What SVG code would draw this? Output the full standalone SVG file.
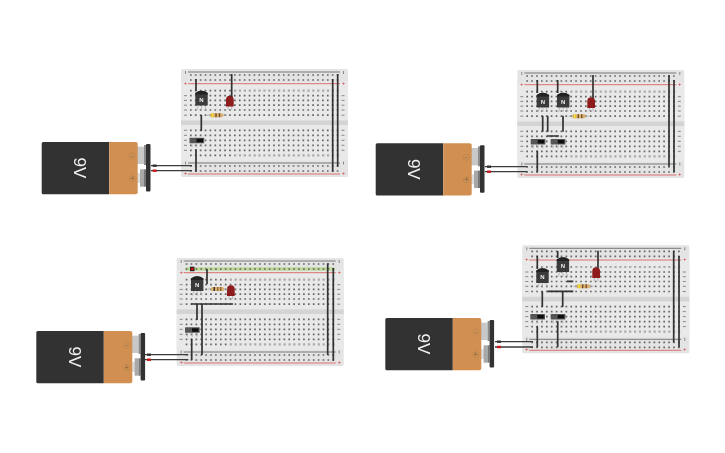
<svg xmlns="http://www.w3.org/2000/svg" width="725" height="453" viewBox="0 0 725 453">
<style>
.h{fill:none;stroke:#666;stroke-width:1.700;stroke-dasharray:1.700 3.190}
.hl{fill:none;stroke:#aaa;stroke-width:2.200;stroke-dasharray:2.200 2.690}
.tick{fill:none;stroke:#888;stroke-width:1}
.w{fill:none;stroke:#333;stroke-width:1.700}
.bw{fill:none;stroke:#3a3a3a;stroke-width:1.300}
.leg{fill:none;stroke:#aaa;stroke-width:.8}
.v{font:17px "Liberation Sans",Arial,sans-serif;fill:#f2f2f2;text-anchor:middle}
.n{font:bold 6px "Liberation Sans",Arial,sans-serif;fill:#eee;text-anchor:middle}
.pm{font:7px "Liberation Sans",Arial,sans-serif;fill:#7a5a35;text-anchor:middle}
.rp{font:6px "Liberation Sans",Arial,sans-serif;fill:#d04040;text-anchor:middle}
</style>
<defs>
<filter id="soft" x="0" y="0" width="725" height="453" filterUnits="userSpaceOnUse"><feGaussianBlur stdDeviation=".35"/></filter>
<g id="bb">
<rect width="167" height="108" rx="1.500" fill="#e4e4e4"/>
<rect y="13" width="167" height="38.500" fill="#e9e9e9"/>
<rect y="56" width="167" height="35.500" fill="#e9e9e9"/>
<rect y="51.500" width="167" height="4.500" fill="#d4d4d4"/>
<path d="M7 3H159M7 94H159" fill="none" stroke="#777" stroke-width="1"/>
<path d="M7 14.700H159M7 105H159" fill="none" stroke="#d87070" stroke-width="1"/>
<path class="h" d="M9 6H158M9 11H158M9 97H158M9 102H158M9 26.700H158M9 31.400H158M9 36.200H158M9 41H158M9 46.200H158M9 61.300H158M9 66.300H158M9 71.300H158M9 76.300H158M9 81.300H158"/>
<path class="h" d="M9 21.700H53M9 86.300H53"/>
<path class="hl" d="M53 21.700H158M53 86.300H158"/>
<path class="tick" d="M3 26.700h3M3 31.400h3M3 36.200h3M3 41h3M3 46.200h3M3 61.300h3M3 66.300h3M3 71.300h3M3 76.300h3M3 81.300h3M160.500 26.700h3M160.500 31.400h3M160.500 36.200h3M160.500 41h3M160.500 46.200h3M160.500 61.300h3M160.500 66.300h3M160.500 71.300h3M160.500 76.300h3M160.500 81.300h3M4.500 2v3M162.500 2v3M4.500 92.500v3M162.500 92.500v3"/>
<text class="rp" x="4.500" y="15.500">+</text><text class="rp" x="162.500" y="15.500">+</text>
<text class="rp" x="4.500" y="106">+</text><text class="rp" x="162.500" y="106">+</text>
</g>
<g id="bat">
<rect x="95" y="4.700" width="7.300" height="17.300" fill="#c8c8c8"/>
<rect x="102.300" y="3" width="2" height="20" fill="#8c8c8c"/>
<rect x="95" y="31" width="4" height="10" fill="#ddd"/>
<rect x="98.300" y="27.300" width="4" height="17.400" fill="#a8a8a8"/>
<rect x="102.300" y="27.300" width="2" height="17.400" fill="#777"/>
<path d="M0 1.500A1.500 1.500 0 0 1 1.500 0H67.500V52.300H1.500A1.500 1.500 0 0 1 0 50.800Z" fill="#333"/>
<path d="M67.500 0H94A2 2 0 0 1 96 2V50.300A2 2 0 0 1 94 52.300H67.500Z" fill="#d19051"/>
<circle cx="90.500" cy="14" r="3" fill="#cf9154" stroke="#b98348" stroke-width=".7"/>
<circle cx="90.500" cy="36.700" r="3" fill="#cf9154" stroke="#b98348" stroke-width=".7"/>
<rect x="104.300" y="2" width="4.500" height="47.500" rx="1" fill="#333"/>
</g>
<g id="tr">
<path class="leg" d="M3 15.500L1.500 20M6.200 15.500V20M9.400 15.500L11 20"/>
<path d="M0 3Q6.200-1.500 12.400 3V15.500H0Z" fill="#3a3a3a"/>
<path d="M0 3Q6.200-1.500 12.400 3V4.500H0Z" fill="#222"/>
</g>
<g id="led">
<path class="leg" d="M2 10v4M5.700 10v4"/>
<path d="M0 3.800A3.800 3.800 0 0 1 7.700 3.800V10.800H0Z" fill="#8e1c1c"/>
</g>
<g id="sw">
<path class="leg" d="M2.500 5.500v4M7.300 5.500v4M12.100 5.500v4"/>
<rect width="14.700" height="5.500" rx=".5" fill="#555"/>
<rect x="7" y="1" width="6.500" height="3.500" fill="#111"/>
</g>
<g id="res">
<path d="M-3.500 2H17" fill="none" stroke="#aaa" stroke-width=".8"/>
<rect x="0" y="0" width="13.300" height="4" rx="1.600" fill="#dcb06e"/>
</g>
</defs>
<g filter="url(#soft)">
<g id="board-1" transform="translate(181 69)"><use href="#bb"/></g>
<g id="board-2" transform="translate(517.300 70)"><use href="#bb"/></g>
<g id="board-3" transform="translate(176.700 258)"><use href="#bb"/>
<path d="M9 11H158" fill="none" stroke="#b9d98c" stroke-width="3.500" opacity=".85"/>
<path class="h" d="M9 11H158"/>
<rect x="13.300" y="8.700" width="4.500" height="4.500" fill="#222"/><rect x="14.400" y="9.800" width="2.300" height="2.300" fill="#e01010"/>
</g>
<g id="board-4" transform="translate(522.300 245.300)"><use href="#bb"/></g>

<g id="battery-1" transform="translate(41.700 142)"><use href="#bat"/><text class="v" transform="translate(40 26) rotate(90)" y="7.500">9V</text><text class="pm" x="90.500" y="16">-</text><text class="pm" x="90.500" y="39">+</text></g>
<g id="battery-2" transform="translate(375.700 143.300)"><use href="#bat"/><text class="v" transform="translate(40 26) rotate(90)" y="7.500">9V</text><text class="pm" x="90.500" y="16">-</text><text class="pm" x="90.500" y="39">+</text></g>
<g id="battery-3" transform="translate(36.300 331)"><use href="#bat"/><text class="v" transform="translate(40 26) rotate(90)" y="7.500">9V</text><text class="pm" x="90.500" y="16">-</text><text class="pm" x="90.500" y="39">+</text></g>
<g id="battery-4" transform="translate(385.300 318)"><use href="#bat"/><text class="v" transform="translate(40 26) rotate(90)" y="7.500">9V</text><text class="pm" x="90.500" y="16">-</text><text class="pm" x="90.500" y="39">+</text></g>

<g id="transistor-1" transform="translate(195.300 90)"><use href="#tr"/><text class="n" x="6.200" y="11.500">N</text></g>
<g id="led-1" transform="translate(226 95.700)"><use href="#led"/></g>
<g id="resistor-1" transform="translate(210 113.300)"><use href="#res"/><path d="M2.500 0v4" stroke="#f0e020" stroke-width="1.600"/><path d="M6 0v4M9.500 0v4" stroke="#6b4a2a" stroke-width="1.300"/></g>
<g id="switch-1" transform="translate(189.500 137.700)"><use href="#sw"/></g>

<g id="transistor-2a" transform="translate(536.700 92)"><use href="#tr"/><text class="n" x="6.200" y="11.500">N</text></g>
<g id="transistor-2b" transform="translate(557 92)"><use href="#tr"/><text class="n" x="6.200" y="11.500">N</text></g>
<g id="led-2" transform="translate(587.300 97.300)"><use href="#led"/></g>
<g id="resistor-2" transform="translate(572.300 114.300)"><use href="#res"/><path d="M2.500 0v4" stroke="#f0e020" stroke-width="1.600"/><path d="M6 0v4M9.500 0v4" stroke="#6b4a2a" stroke-width="1.300"/></g>
<g id="switch-2a" transform="translate(530.700 139)"><use href="#sw"/></g>
<g id="switch-2b" transform="translate(550.700 139)"><use href="#sw"/></g>

<g id="transistor-3" transform="translate(191 275.500)"><use href="#tr"/><text class="n" x="6.200" y="11.500">N</text></g>
<g id="led-3" transform="translate(227 285.300)"><use href="#led"/></g>
<g id="resistor-3" transform="translate(210.700 287)"><use href="#res"/><path d="M3.500 0v4" stroke="#222" stroke-width="1.300"/><path d="M7 0v4M10 0v4" stroke="#8a6235" stroke-width="1.300"/></g>
<g id="switch-3" transform="translate(185 327.300)"><use href="#sw"/></g>

<g id="transistor-4a" transform="translate(536.300 267.500)"><use href="#tr"/><text class="n" x="6.200" y="11.500">N</text></g>
<g id="transistor-4b" transform="translate(556.700 256.500)"><use href="#tr"/><text class="n" x="6.200" y="11.500">N</text></g>
<g id="led-4" transform="translate(592.300 267.300)"><use href="#led"/></g>
<g id="resistor-4" transform="translate(576.700 284.300)"><use href="#res"/><path d="M2.500 0v4" stroke="#f0e020" stroke-width="1.600"/><path d="M6 0v4M9.500 0v4" stroke="#6b4a2a" stroke-width="1.300"/></g>
<g id="switch-4a" transform="translate(530.300 314)"><use href="#sw"/></g>
<g id="switch-4b" transform="translate(550.700 314)"><use href="#sw"/></g>

<g id="connectors">
<path class="w" d="M196 79V91M231.700 74V97M201.300 115V131M196 149.300V171.700M332.700 79V171.700M337.700 74V166.700"/>
<path class="bw" d="M151 165.700H192M151 170.700H192"/>
<rect x="152.700" y="164.500" width="4" height="2.400" fill="#333"/><rect x="152.700" y="169.500" width="4" height="2.400" fill="#c81818"/>

<path class="w" d="M537.300 80V93M557.700 80V93M593 75V98M542.700 115.700V131.700M547.700 115.700V131.700M563 115.700V131.700M547 136H559M537.300 150.700V172.300M669 75V166.700M674 80V172.300"/>
<path class="bw" d="M485 166.700H527.300M485 171.700H527.300"/>
<rect x="487" y="165.500" width="4" height="2.400" fill="#333"/><rect x="487" y="170.500" width="4" height="2.400" fill="#c81818"/>

<path class="w" d="M207 269V284.300M191 304H233M197 304V320M202 304V355M191.700 338.700V360M327.700 263.300V355M333.300 268V360.700"/>
<path class="bw" d="M145 354.700H188.300M145 359.700H188.300"/>
<rect x="147" y="353.500" width="4" height="2.400" fill="#333"/><rect x="147" y="358.500" width="4" height="2.400" fill="#c81818"/>

<path class="w" d="M537.300 255.700V269M557.700 251V258M598 250.700V268M567 281.300H573.300M547.300 291.300H573.300M542.300 291.300V307M562.700 291.300V307M537.300 326.300V347.300M557.700 321.300V347.300M673.700 250.700V342.300M679 256V347.300"/>
<path class="bw" d="M495 341.700H533M495 347H533"/>
<rect x="497" y="340.500" width="4" height="2.400" fill="#333"/><rect x="497" y="345.800" width="4" height="2.400" fill="#c81818"/>
</g>
</g>
</svg>
